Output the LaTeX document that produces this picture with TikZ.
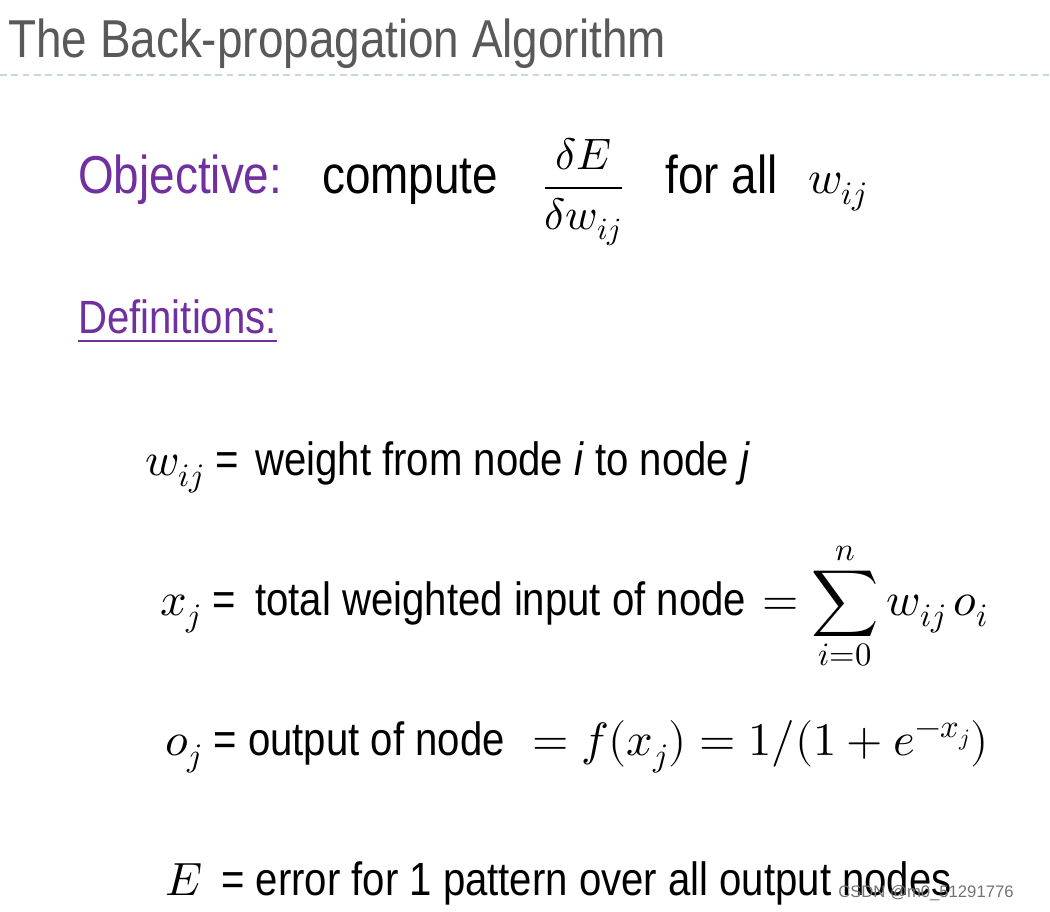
\documentclass[tikz,border=0pt]{standalone}
\usepackage{fontspec}
\usepackage{unicode-math}
\setmathfont{Latin Modern Math}
\setmainfont[FakeStretch=0.86]{Liberation Sans}
\newfontfamily\wmfont{Liberation Sans}
\definecolor{purp}{RGB}{112,48,160}
\definecolor{ttl}{RGB}{89,89,89}
\definecolor{dashcol}{RGB}{200,215,230}
\begin{document}
\begin{tikzpicture}[x=0.75pt,y=-0.75pt,
  t/.style={anchor=base west,inner sep=0pt,font=\fontsize{35}{40}\selectfont},
  pt/.style={t,text=purp}]
\useasboundingbox[fill=white] (0,0) rectangle (1050,911);
\node[anchor=base west,inner sep=0pt,text=ttl,font=\fontsize{40}{45}\selectfont] (title) at (8,57) {The Back-propagation Algorithm};
\coordinate (dl) at (0,75); \coordinate (dr) at (1050,75);
\draw[dashcol,line width=1.5pt,dash pattern=on 5pt off 3.5pt] (dl) -- (dr);
\node[pt,font=\fontsize{40}{45}\selectfont] (obj) at (78,193) {Objective:};
\node[t,font=\fontsize{40}{45}\selectfont] (comp) at (322,193) {compute};
\node[inner sep=0pt,font=\fontsize{33}{38}\selectfont] (frac) at (583,192) {$\displaystyle\frac{\delta E}{\delta w_{ij}}$};
\node[t,font=\fontsize{40}{45}\selectfont] (fa) at (665,193) {for all};
\node[t] (w1) at (808,193) {$w_{ij}$};
\node[pt] (def) at (78,333) {Definitions:};
\draw[purp,line width=1pt] ([yshift=-6pt]def.base west) -- ([yshift=-6pt]def.base east);
\node[t] (w2) at (145,475) {$w_{ij}$ =};
\node[t] (wt) at (255,475) {weight from node \textit{i} to node \textit{j}};
\node[t] (x1) at (160,615) {$x_j$ =};
\node[t] (xt) at (255,615) {total weighted input of node};
\node[t] (xs) at (762,615) {$=\displaystyle\sum_{i=0}^{n} w_{ij}\,o_i$};
\node[t] (o1) at (165,755) {$o_j$ = output of node};
\node[t] (of) at (532,755) {$= f(x_j) = 1/(1+e^{-x_j})$};
\node[t] (e1) at (165,895) {$E$\, = error for 1 pattern over all output nodes};
\node[anchor=base west,inner sep=0pt,text=black!55,font=\wmfont\fontsize{12.5}{14}\selectfont] (wm) at (838,897) {CSDN @m0\_51291776};
\end{tikzpicture}
\end{document}
